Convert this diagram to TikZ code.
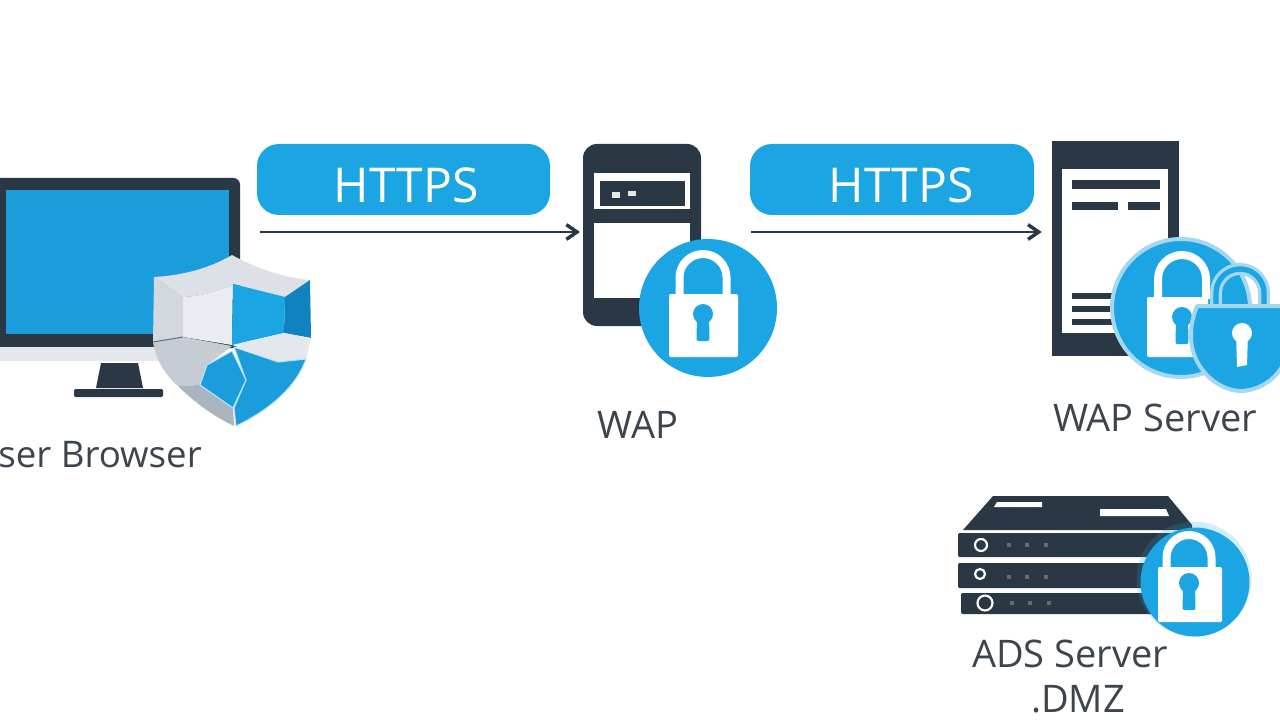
\documentclass[tikz,border=0pt]{standalone}
\usepackage{fontspec}
\setmainfont{Open Sans}
\usetikzlibrary{arrows.meta}
\definecolor{sky}{HTML}{1BA5E2}
\definecolor{screenblue}{HTML}{1B9DDB}
\definecolor{deepblue}{HTML}{1182C0}
\definecolor{ink}{HTML}{2A3744}
\definecolor{txt}{HTML}{3C444D}
\definecolor{halo}{HTML}{A5D8F0}
\definecolor{shA}{HTML}{DDE1E7}
\definecolor{shB}{HTML}{D3D8DF}
\definecolor{shC}{HTML}{E9ECF0}
\definecolor{shD}{HTML}{E4E8EC}
\definecolor{shE}{HTML}{C5CCD4}
\definecolor{shF}{HTML}{AAB4C0}
\tikzset{
  x=0.75pt,y=-0.75pt,
  dark/.style={fill=ink,draw=none},
  pill/.style={fill=sky,draw=none,rounded corners=16.5pt,minimum width=#1*0.75pt,minimum height=53.25pt,inner sep=0pt},
  pilltext/.style={text=white,inner sep=0pt,font=\fontsize{36}{36}\selectfont},
  lbl/.style={text=txt,inner sep=0pt,font=\fontsize{28.5}{30}\selectfont},
  link/.style={draw=ink,line width=2.2pt,-{Straight Barb[length=8pt,width=11pt,line width=2.6pt]}},
  rackrow/.style={fill=ink,draw=none},
  ledmark/.style={fill=gray!70!ink,draw=none},
  ring/.style={draw=white,fill=none,line width=1.6pt}
}
% body left, right, top, bottom, shackle top, shackle half-span, stroke px, key x, key y
\newcommand\padlock[9]{%
  \pgfmathsetmacro\pL{#8-#6}%
  \pgfmathsetmacro\pR{#8+#6}%
  \pgfmathsetmacro\pS{#5+#6}%
  \draw[white,line width=#7*0.75pt] (\pL,#3+2) -- (\pL,\pS) arc[start angle=180,end angle=360,radius=#6] -- (\pR,#3+2);
  \fill[white,rounded corners=1pt] (#1,#3) rectangle (#2,#4);
  \fill[sky] (#8,#9) circle[radius=10];
  \fill[sky,rounded corners=1pt] (#8-6,#9) -- (#8+6,#9) -- (#8+6.5,#9+27) -- (#8-6.5,#9+27) -- cycle;
}
\begin{document}
\begin{tikzpicture}
\clip (0,0) rectangle (1280,720);
\fill[white] (0,0) rectangle (1280,720);

% ---------- monitor
\fill[dark,rounded corners=5pt] (-20,178) rectangle (240,348);
\fill[screenblue] (6,190) rectangle (229,334);
\fill[shD] (0,347) rectangle (165,361);
\fill[ink] (101,363) -- (138,363) -- (143,388) -- (96,388) -- cycle;
\fill[ink,rounded corners=1pt] (74,389) rectangle (163,397);

% ---------- shield
\fill[shA] (154,277) .. controls (190,275) and (215,265) .. (232,255) .. controls (255,268) and (285,278) .. (310,280) -- (285,297) -- (233,284) .. controls (215,293) and (200,296) .. (183,297) -- cycle;
\fill[shB] (154,277) -- (183,297) -- (183,337) -- (153,342) -- cycle;
\fill[shC] (183,297) .. controls (200,296) and (215,293) .. (233,284) -- (232,345) -- (183,337) -- cycle;
\fill[sky] (233,284) -- (285,297) -- (284,333) -- (232,345) -- cycle;
\fill[deepblue] (285,297) -- (310,280) -- (311,338) -- (284,333) -- cycle;
\fill[shD] (232,345) -- (284,333) -- (311,338) -- (306,359) -- (278,362) -- cycle;
\fill[shE] (153,342) -- (183,337) -- (232,346) -- (207,365) -- (200,385) -- (178,386) .. controls (165,375) and (156,360) .. (153,342) -- cycle;
\fill[shF] (178,386) -- (200,385) -- (233,408) -- (234,426) .. controls (215,417) and (195,403) .. (178,386) -- cycle;
\draw[ink!70,line width=0.8pt] (153,342) -- (183,337);
\fill[screenblue,draw=white!70!sky,line width=0.8pt,line join=round] (234,347) -- (278,362) -- (306,359) .. controls (295,390) and (265,412) .. (236,426) -- (234,408) -- (246,380) -- cycle;
\fill[screenblue,draw=white!70!sky,line width=0.8pt,line join=round] (232,351) -- (246,380) -- (233,408) -- (200,385) -- (207,365) -- cycle;

% ---------- first link label
\node[pill=293] (pillA) at (403.5,179.5) {};
\node[pilltext] (httpsA) at (406,185) {HTTPS};

% ---------- phone
\node[dark,rounded corners=10.5pt,minimum width=88.5pt,minimum height=136.5pt,inner sep=0pt] (wap) at (642,235) {};
\fill[white] (594,173) rectangle (690,209);
\fill[ink] (600,181) rectangle (685,206);
\fill[white!88!ink] (612,192) rectangle (620,198);
\fill[white!88!ink] (628,191) rectangle (636,196);
\fill[white] (594,223) rectangle (690,298);
\fill[sky] (708,308) circle[radius=69];
\padlock{669}{738}{294}{357}{254}{23.5}{8}{703}{314}

% ---------- second link label
\node[pill=284] (pillB) at (892,179.5) {};
\node[pilltext] (httpsB) at (901,185) {HTTPS};

% ---------- WAP server document
\node[dark,minimum width=95.25pt,minimum height=161.25pt,inner sep=0pt] (srv) at (1115.5,248.5) {};
\fill[white] (1062,169) rectangle (1168,333);
\fill[ink] (1072,180) rectangle (1160,189);
\fill[ink] (1072,202) rectangle (1118,210);
\fill[ink] (1128,202) rectangle (1160,210);
\fill[ink] (1072,293) rectangle (1112,299);
\fill[ink] (1072,306) rectangle (1112,312);
\fill[ink] (1072,319) rectangle (1112,325);
\fill[sky,draw=halo,line width=3pt] (1181,308) circle[radius=69];
\padlock{1147}{1208}{297}{357}{255}{24}{8}{1182}{317}
% small padlock
\draw[halo,line width=9pt] (1216,315) -- (1216,293) arc[start angle=180,end angle=360,radius=24] -- (1264,315);
\draw[sky,line width=4pt] (1216,315) -- (1216,293) arc[start angle=180,end angle=360,radius=24] -- (1264,315);
\fill[sky,draw=halo,line width=3pt,line join=round] (1197,306) -- (1290,306) -- (1290,345) .. controls (1285,375) and (1262,391) .. (1240,391) .. controls (1215,390) and (1190,365) .. (1191,335) .. controls (1191,322) and (1194,314) .. (1197,306) -- cycle;
\fill[white] (1242,333) circle[radius=10];
\fill[white] (1236,333) -- (1248,333) -- (1247,365) -- (1237,367) -- cycle;

% ---------- connectors
\coordinate (startA) at (260,232);
\coordinate (startB) at (751,232);
\draw[link,shorten >=2pt] (startA) -- (startA -| wap.west);
\draw[link,shorten >=7.5pt] (startB) -- (startB -| srv.west);

% ---------- ADS server
\fill[dark] (963,530) -- (993,496) -- (1168,496) -- (1192,525) -- (1192,530) -- cycle;
\fill[white] (997,502) -- (1042,502) -- (1042,507) -- (994,507) -- cycle;
\fill[white] (1100,509) -- (1166,509) -- (1169,516) -- (1100,516) -- cycle;
\fill[rackrow,rounded corners=1pt] (958,533) rectangle (1190,557);
\fill[rackrow,rounded corners=1pt] (958,563) rectangle (1180,588);
\fill[rackrow,rounded corners=1pt] (961,593) rectangle (1180,614);
\draw[ring] (981,545) circle[radius=6];
\draw[ring] (980,574) circle[radius=5];
\draw[ring] (985,603) circle[radius=7.5];
\foreach \lx in {1009,1027,1046} {
  \fill[ledmark] (\lx-2,545-2) rectangle (\lx+2,545+2);
  \fill[ledmark] (\lx-2,577-2) rectangle (\lx+2,577+2);
  \fill[ledmark] (\lx+3-2,603-2) rectangle (\lx+3+2,603+2);
}
\fill[sky,opacity=.2] (1194,579) circle[radius=57.5];
\fill[sky] (1195,582) circle[radius=54.5];
\padlock{1158}{1222}{567}{622}{535}{22.5}{8}{1189}{583}

% ---------- labels
\node[lbl,anchor=base west,font=\fontsize{27.5}{30}\selectfont] (browser) at (-2,467) {ser Browser};
\node[lbl] (wapL) at (638,425) {WAP};
\node[lbl] (srvL) at (1155,418) {WAP Server};
\node[lbl] (adsL) at (1070,654) {ADS Server};
\node[lbl] (dmzL) at (1078,699) {.DMZ};
\end{tikzpicture}
\end{document}
